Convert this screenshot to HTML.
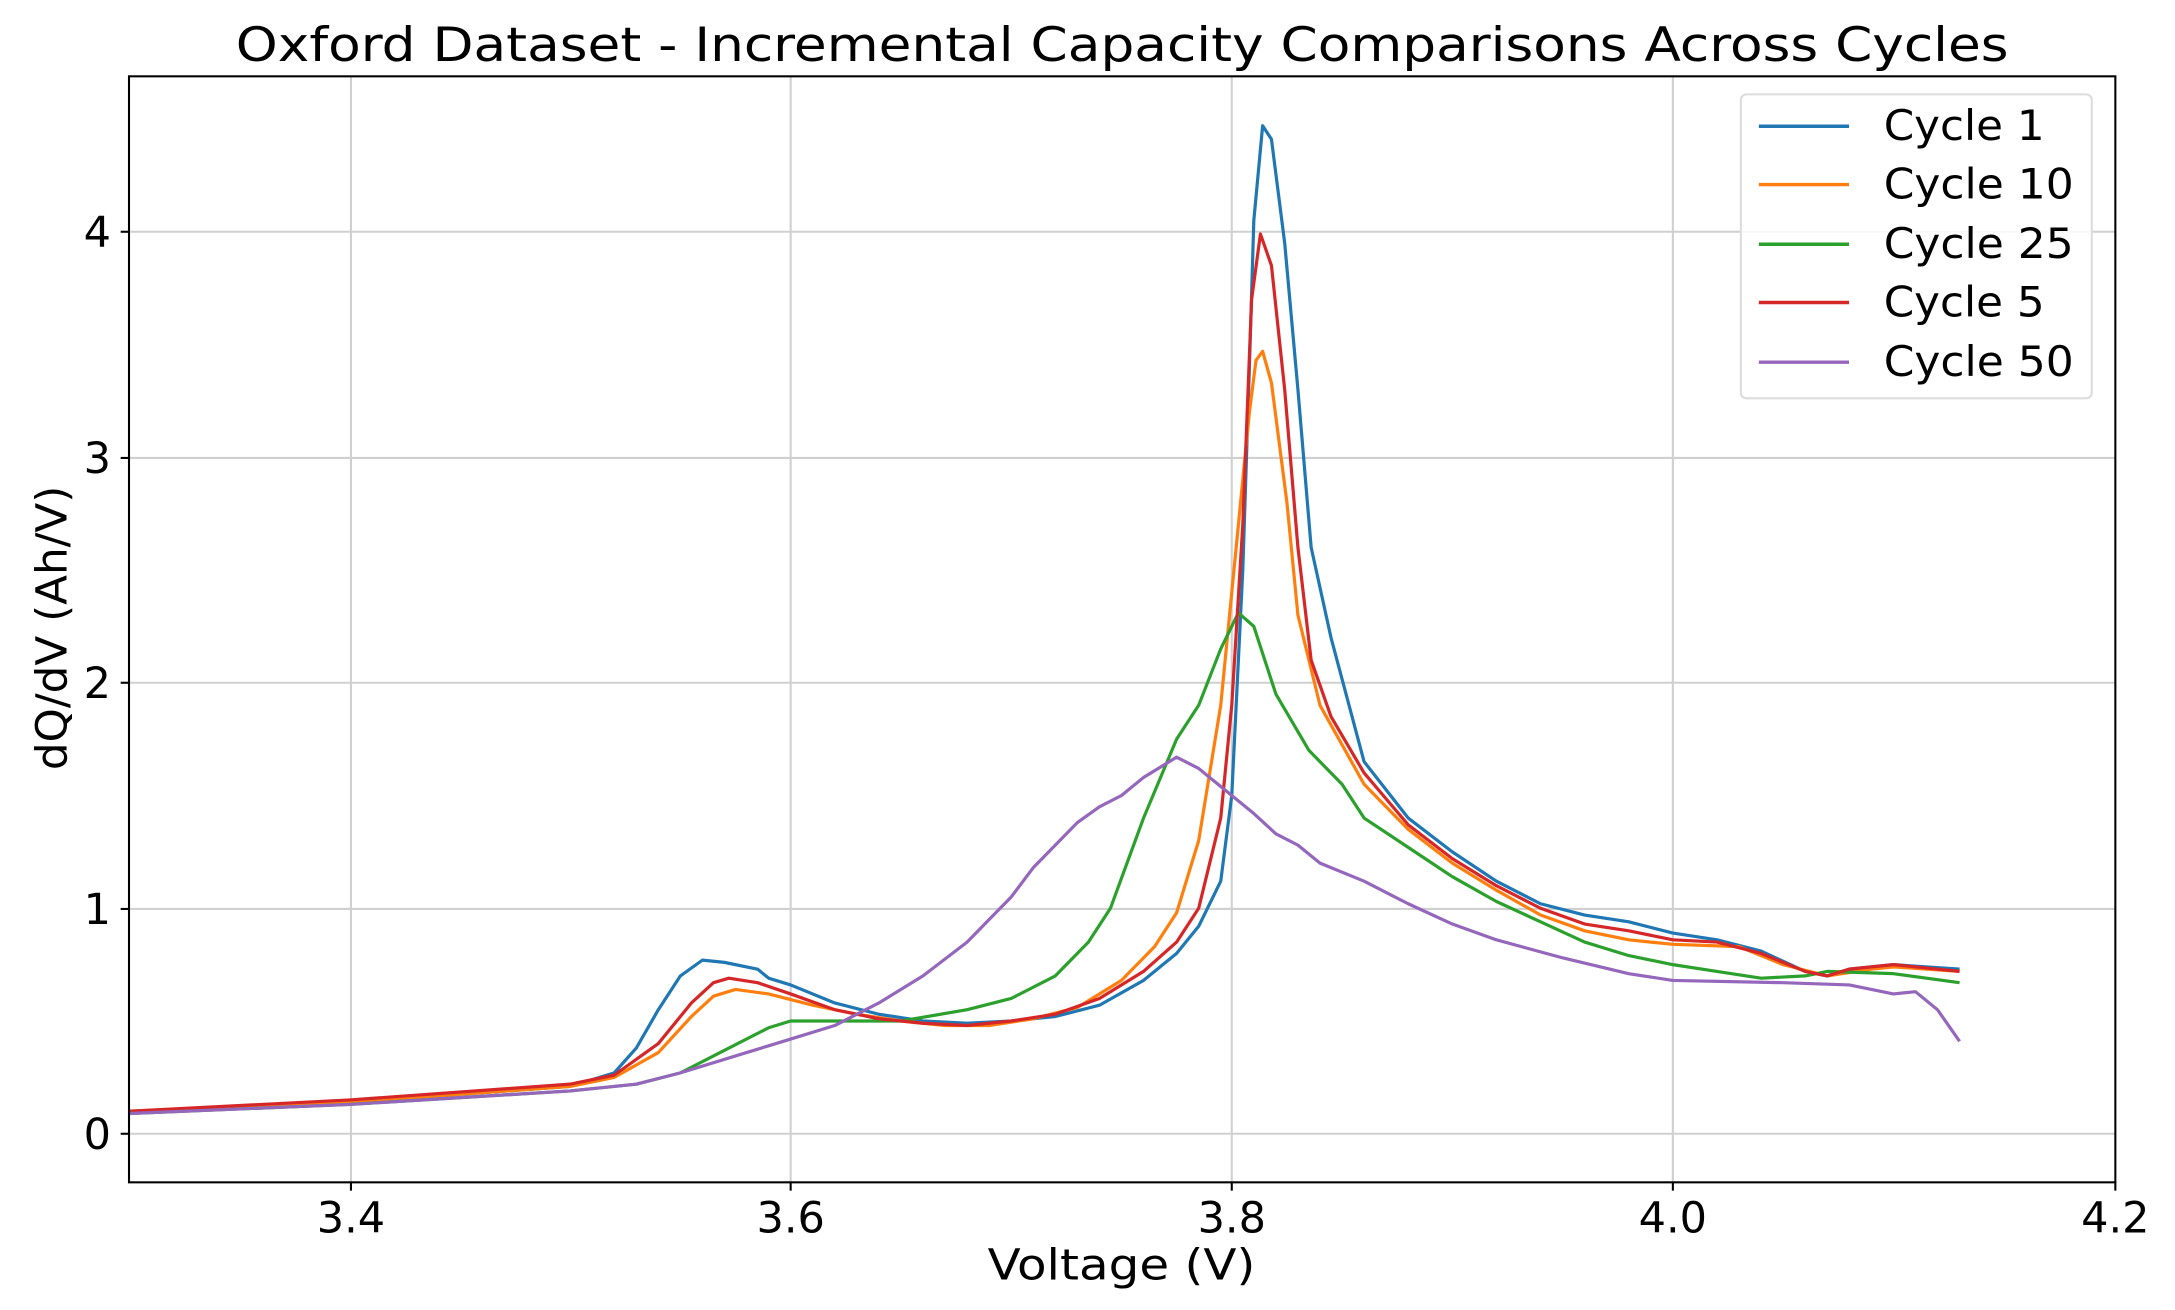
<!DOCTYPE html>
<html><head><meta charset="utf-8"><style>html,body{margin:0;padding:0;background:#fff}svg{display:block}</style></head>
<body>
<svg width="2175" height="1310" viewBox="0 0 1568 944" preserveAspectRatio="none" xmlns="http://www.w3.org/2000/svg" font-family="'DejaVu Sans','Liberation Sans',sans-serif">
<rect width="1568" height="944" fill="#fff"/>
<g stroke="#d0d0d0" stroke-width="1.5">
<line x1="253" y1="55" x2="253" y2="852"/><line x1="570" y1="55" x2="570" y2="852"/><line x1="888" y1="55" x2="888" y2="852"/><line x1="1206" y1="55" x2="1206" y2="852"/>
<line x1="93" y1="817" x2="1525" y2="817"/><line x1="93" y1="655" x2="1525" y2="655"/><line x1="93" y1="492" x2="1525" y2="492"/><line x1="93" y1="330" x2="1525" y2="330"/><line x1="93" y1="167" x2="1525" y2="167"/>
</g>
<g fill="none" stroke-width="3.2" stroke-linejoin="round" transform="matrix(1590,0,0,-162.5,-5154,817)">
<polyline vector-effect="non-scaling-stroke" stroke="#1f77b4" points="3.3,.1 3.4,.14 3.5,.21 3.52,.27 3.53,.38 3.54,.55 3.55,.7 3.56,.77 3.57,.76 3.585,.73 3.59,.69 3.6,.66 3.62,.58 3.64,.53 3.66,.5 3.68,.49 3.7,.5 3.72,.52 3.74,.57 3.76,.68 3.775,.8 3.785,.92 3.795,1.12 3.8,1.5 3.805,2.5 3.808,3.4 3.81,4.05 3.814,4.47 3.818,4.41 3.824,3.95 3.83,3.3 3.836,2.6 3.845,2.2 3.86,1.65 3.88,1.4 3.9,1.25 3.92,1.12 3.94,1.02 3.96,.97 3.98,.94 4,.89 4.02,.86 4.04,.81 4.06,.72 4.07,.7 4.08,.73 4.1,.75 4.13,.73"/>
<polyline vector-effect="non-scaling-stroke" stroke="#ff7f0e" points="3.3,.09 3.4,.14 3.5,.21 3.52,.25 3.54,.36 3.555,.52 3.565,.61 3.575,.64 3.59,.62 3.61,.57 3.63,.53 3.65,.5 3.67,.48 3.69,.48 3.71,.51 3.73,.56 3.75,.68 3.765,.83 3.775,.98 3.785,1.3 3.795,1.9 3.802,2.6 3.808,3.2 3.811,3.43 3.814,3.47 3.818,3.33 3.825,2.8 3.83,2.3 3.84,1.9 3.86,1.55 3.88,1.35 3.9,1.2 3.92,1.08 3.94,.97 3.96,.9 3.98,.86 4,.84 4.03,.83 4.05,.75 4.07,.7 4.09,.73 4.1,.74 4.13,.72"/>
<polyline vector-effect="non-scaling-stroke" stroke="#2ca02c" points="3.3,.09 3.4,.13 3.5,.19 3.53,.22 3.55,.27 3.57,.37 3.59,.47 3.6,.5 3.62,.5 3.65,.5 3.68,.55 3.7,.6 3.72,.7 3.735,.85 3.745,1.0 3.76,1.4 3.775,1.75 3.785,1.9 3.795,2.15 3.803,2.31 3.81,2.25 3.815,2.1 3.82,1.95 3.835,1.7 3.85,1.55 3.86,1.4 3.88,1.27 3.9,1.14 3.92,1.03 3.94,.94 3.96,.85 3.98,.79 4,.75 4.02,.72 4.04,.69 4.06,.7 4.07,.72 4.1,.71 4.13,.67"/>
<polyline vector-effect="non-scaling-stroke" stroke="#d62728" points="3.3,.1 3.4,.15 3.5,.22 3.52,.26 3.54,.4 3.555,.58 3.565,.67 3.572,.69 3.585,.67 3.6,.62 3.62,.55 3.64,.51 3.66,.49 3.68,.48 3.7,.5 3.72,.53 3.74,.6 3.76,.72 3.775,.85 3.785,1.0 3.795,1.4 3.8,1.9 3.805,2.7 3.809,3.7 3.813,3.99 3.818,3.85 3.824,3.3 3.83,2.6 3.836,2.1 3.845,1.85 3.86,1.6 3.88,1.37 3.9,1.22 3.92,1.1 3.94,1.0 3.96,.93 3.98,.9 4,.86 4.02,.85 4.04,.8 4.06,.72 4.07,.7 4.08,.73 4.1,.75 4.13,.72"/>
<polyline vector-effect="non-scaling-stroke" stroke="#9467bd" points="3.3,.09 3.4,.13 3.5,.19 3.53,.22 3.55,.27 3.58,.36 3.6,.42 3.62,.48 3.64,.58 3.66,.7 3.68,.85 3.69,.95 3.7,1.05 3.71,1.18 3.72,1.28 3.73,1.38 3.74,1.45 3.75,1.5 3.76,1.58 3.775,1.67 3.785,1.62 3.79,1.58 3.8,1.5 3.81,1.42 3.82,1.33 3.83,1.28 3.84,1.2 3.86,1.12 3.88,1.02 3.9,.93 3.92,.86 3.95,.78 3.98,.71 4,.68 4.05,.67 4.08,.66 4.1,.62 4.11,.63 4.12,.55 4.13,.41"/>
</g>
<rect x="93" y="55" width="1432" height="797" fill="none" stroke="#000" stroke-width="1.5"/>
<g stroke="#000" stroke-width="1.5">
<line x1="253" y1="852" x2="253" y2="858"/><line x1="570" y1="852" x2="570" y2="858"/><line x1="888" y1="852" x2="888" y2="858"/><line x1="1206" y1="852" x2="1206" y2="858"/><line x1="1525" y1="852" x2="1525" y2="858"/>
<line x1="87" y1="817" x2="93" y2="817"/><line x1="87" y1="655" x2="93" y2="655"/><line x1="87" y1="492" x2="93" y2="492"/><line x1="87" y1="330" x2="93" y2="330"/><line x1="87" y1="167" x2="93" y2="167"/>
</g>
<g font-size="31" fill="#000" text-anchor="middle">
<text x="253" y="888">3.4</text><text x="570" y="888">3.6</text><text x="888" y="888">3.8</text><text x="1206" y="888">4.0</text><text x="1525" y="888">4.2</text>
</g>
<g font-size="31" fill="#000" text-anchor="end">
<text x="80" y="828">0</text><text x="80" y="666">1</text><text x="80" y="503">2</text><text x="80" y="341">3</text><text x="80" y="178">4</text>
</g>
<text x="712" y="922" font-size="31" textLength="193" lengthAdjust="spacingAndGlyphs">Voltage (V)</text>
<text transform="translate(48,555) rotate(-90)" font-size="31" textLength="205" lengthAdjust="spacingAndGlyphs">dQ/dV (Ah/V)</text>
<text x="170" y="44" font-size="34" textLength="1278" lengthAdjust="spacingAndGlyphs">Oxford Dataset - Incremental Capacity Comparisons Across Cycles</text>
<rect x="1255" y="68" width="253" height="219" rx="4" fill="#fff" fill-opacity="0.85" stroke="#dcdcdc" stroke-width="1.5"/>
<g stroke-width="2.5">
<line x1="1268" y1="91" x2="1333" y2="91" stroke="#1f77b4"/>
<line x1="1268" y1="133" x2="1333" y2="133" stroke="#ff7f0e"/>
<line x1="1268" y1="176" x2="1333" y2="176" stroke="#2ca02c"/>
<line x1="1268" y1="218" x2="1333" y2="218" stroke="#d62728"/>
<line x1="1268" y1="261" x2="1333" y2="261" stroke="#9467bd"/>
</g>
<g font-size="30" fill="#000" lengthAdjust="spacingAndGlyphs">
<text x="1358" y="101" textLength="116" lengthAdjust="spacingAndGlyphs">Cycle 1</text><text x="1358" y="143" textLength="137" lengthAdjust="spacingAndGlyphs">Cycle 10</text><text x="1358" y="186" textLength="137" lengthAdjust="spacingAndGlyphs">Cycle 25</text><text x="1358" y="228" textLength="116" lengthAdjust="spacingAndGlyphs">Cycle 5</text><text x="1358" y="271" textLength="137" lengthAdjust="spacingAndGlyphs">Cycle 50</text>
</g>
</svg>
</body></html>
